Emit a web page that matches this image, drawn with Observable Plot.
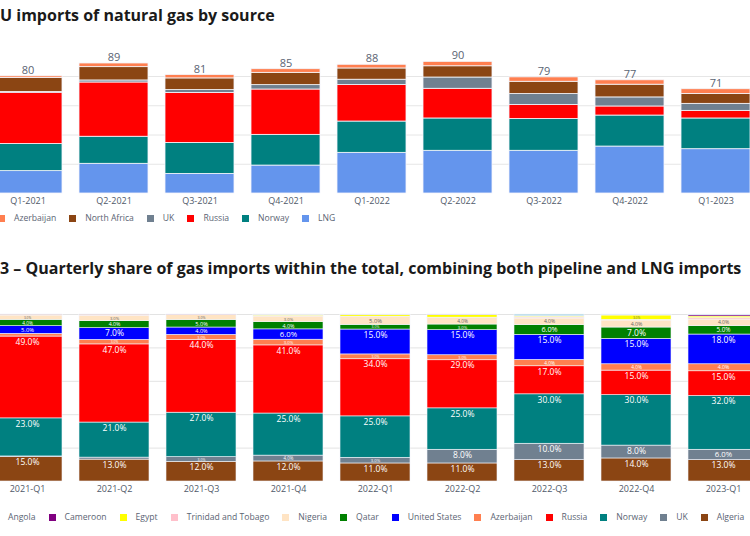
<!DOCTYPE html>
<html><head><meta charset="utf-8">
<script src="https://cdn.jsdelivr.net/npm/d3@7"></script>
<script src="https://cdn.jsdelivr.net/npm/@observablehq/plot@0.6"></script>
<style>
html,body{margin:0;padding:0;background:#fff;}
body{width:750px;height:536px;overflow:hidden;position:relative;font-family:"Open Sans",sans-serif;}
.title{position:absolute;left:0;font-weight:700;font-size:16px;line-height:20px;color:#1a1a1a;white-space:nowrap;z-index:2;}
.chart{position:absolute;left:0;z-index:1;}
.legend{position:absolute;display:flex;align-items:center;white-space:nowrap;font-size:8.6px;line-height:12px;color:#5a6473;z-index:2;}
.legend .item{display:flex;align-items:center;margin-right:13px;}
.legend .sw{width:7px;height:7px;margin-right:9px;}
</style></head><body>
<div class="chart" id="c1" style="top:0px"></div>
<div class="title" style="top:5px">U imports of natural gas by source</div>
<div class="legend" id="l1" style="top:212px;left:-2px"></div>
<div class="title" style="top:258px">3 – Quarterly share of gas imports within the total, combining both pipeline and LNG imports</div>
<div class="chart" id="c2" style="top:290px"></div>
<div class="legend" id="l2" style="top:511px;left:-8px"></div>
<script>
// ---------- Panel 1: EU imports of natural gas by source (bcm) ----------
const quarters1 = ["Q1-2021","Q2-2021","Q3-2021","Q4-2021","Q1-2022","Q2-2022","Q3-2022","Q4-2022","Q1-2023"];
const sources1 = ["LNG","Norway","Russia","UK","North Africa","Azerbaijan"]; // bottom to top
const colors1 = ["#6495ED","#008080","#FF0000","#708090","#8B4513","#FF7F50"];
const lng         = [15.3,20.3,13.4,19.1,27.8,29.2,29.2,32.1,30.3];
const norway      = [18.5,18.5,21.2,21.0,21.4,22.1,21.7,21.2,21.0];
const russia      = [35.1,37.1,34.2,31.0,25.0,20.3, 9.6, 6.2, 5.2];
const uk          = [ 0.5, 1.4, 1.9, 3.0, 3.6, 7.7, 7.5, 6.2, 4.8];
const northAfrica = [ 9.6, 9.1, 8.0, 8.4, 7.7, 7.7, 8.4, 8.7, 6.8];
const azerbaijan  = [ 1.1, 2.5, 2.3, 2.5, 2.5, 3.0, 3.0, 3.0, 3.2];
const gridTicks1 = [20,40,60,80];

// ---------- Panel 2: quarterly share of gas imports (%) ----------
const quarters2 = ["2021-Q1","2021-Q2","2021-Q3","2021-Q4","2022-Q1","2022-Q2","2022-Q3","2022-Q4","2023-Q1"];
const countries2 = ["Algeria","UK","Norway","Russia","Azerbaijan","United States","Qatar","Nigeria","Trinidad and Tobago","Egypt","Cameroon","Angola"]; // bottom to top
const colors2 = ["#8B4513","#708090","#008080","#FF0000","#FF7F50","#0000FF","#008000","#FFE4C4","#FFC0CB","#FFFF00","#800080","#ADD8E6"];
const lightFills = ["Nigeria","Trinidad and Tobago","Egypt","Angola"];
const algeriaShare    = [14.6,13.1,11.8,12.0,10.8,10.8,12.8,13.8,12.8];
const ukShare         = [ 0.4, 1.2, 2.8, 3.5, 3.4, 8.2, 9.8, 7.7, 6.2];
const norwayShare     = [22.8,21.0,26.6,25.2,24.8,24.8,29.6,30.2,32.2];
const russiaShare     = [49.0,46.8,43.6,40.8,34.2,28.8,16.8,14.7,14.8];
const azerbaijanShare = [ 1.6, 2.7, 3.0, 3.4, 2.9, 3.0, 3.8, 3.8, 4.2];
const usShare         = [ 4.6, 7.0, 4.4, 6.2,14.9,15.0,15.0,15.2,17.8];
const qatarShare      = [ 3.8, 4.2, 4.5, 4.3, 2.8, 3.4, 5.8, 6.8, 5.0];
const nigeriaShare    = [ 2.6, 3.3, 2.9, 3.4, 4.6, 3.8, 4.0, 4.2, 4.0];
const trinidadShare   = [ 0.3, 0.4, 0.2, 0.3, 0.3, 0.3, 0.6, 0.4, 0.8];
const egyptShare      = [ 0.2, 0.2, 0.1, 0.7, 1.1, 1.6, 0.6, 2.6, 1.0];
const cameroonShare   = [ 0.1, 0.1, 0.1, 0.1, 0.1, 0.2, 0.1, 0.3, 0.8];
const angolaShare     = [ 0.0, 0.0, 0.0, 0.1, 0.1, 0.1, 1.1, 0.3, 0.4];
const gridTicks2 = [20,40,60,80,100];

// ---------- build tables ----------
const series1 = [lng, norway, russia, uk, northAfrica, azerbaijan];
const long1 = [];
quarters1.forEach((q, i) => sources1.forEach((s, j) => long1.push({quarter: q, source: s, value: series1[j][i]})));
const totals1 = quarters1.map((q, i) => ({quarter: q, total: d3.sum(series1, s => s[i])}));

const series2 = [algeriaShare, ukShare, norwayShare, russiaShare, azerbaijanShare, usShare, qatarShare,
                 nigeriaShare, trinidadShare, egyptShare, cameroonShare, angolaShare];
const rows2 = [];
quarters2.forEach((q, i) => {
  let base = 0;
  countries2.forEach((c, j) => {
    const v = series2[j][i];
    rows2.push({quarter: q, country: c, value: v, y0: base, y1: base + v});
    base += v;
  });
});

// ---------- chart 1 ----------
const H1 = 210, base1 = 193, top1 = 76;
const chart1 = Plot.plot({
  width: 750, height: H1,
  marginTop: 0, marginRight: 0, marginLeft: 0, marginBottom: H1 - base1,
  style: {fontFamily: "'Open Sans', sans-serif", fontSize: "9px", color: "#4f5a69", background: "white"},
  x: {domain: quarters1, range: [-27, 770], padding: 0.2, tickSize: 0, tickPadding: 4, label: null},
  y: {domain: [0, 80], range: [base1, top1], axis: null},
  color: {domain: sources1, range: colors1},
  marks: [
    Plot.ruleY(gridTicks1, {stroke: "#e6e6e6", strokeWidth: 1}),
    Plot.barY(long1, {x: "quarter", y: "value", fill: "source", stroke: "#f4f6fc", strokeWidth: 0.8}),
    Plot.text(totals1, {x: "quarter", y: "total", text: d => String(Math.round(d.total)), dy: -6, fontSize: 11, fill: "#5a6473"})
  ]
});
document.getElementById("c1").appendChild(chart1);

// ---------- chart 2 ----------
const H2 = 210, base2 = 191, top2 = 24;
const pxPerUnit2 = (base2 - top2) / 100;
const labelRows = rows2.map(d => {
  const h = d.value * pxPerUnit2;
  const fs = Math.min(8.5, h * 0.75);
  const off = Math.min(5.5, h / 2) / pxPerUnit2;
  return {...d, fs, ly: d.y1 - off, label: Math.round(d.value).toFixed(1) + "%"};
}).filter(d => d.fs >= 2.5);

const chart2 = Plot.plot({
  width: 750, height: H2,
  marginTop: 0, marginRight: 0, marginLeft: 0, marginBottom: H2 - base2,
  style: {fontFamily: "'Open Sans', sans-serif", fontSize: "9px", color: "#4f5a69", background: "white"},
  x: {domain: quarters2, range: [-26.4, 776.8], padding: 0.2, tickSize: 0, tickPadding: 4, label: null},
  y: {domain: [0, 100], range: [base2, top2], axis: null},
  color: {domain: countries2, range: colors2},
  marks: [
    Plot.ruleY(gridTicks2, {stroke: "#e3e3e3", strokeWidth: 1}),
    Plot.barY(rows2, {x: "quarter", y1: "y0", y2: "y1", fill: "country", stroke: "#f4f6fc", strokeWidth: 0.6}),
    Plot.text(labelRows.filter(d => !lightFills.includes(d.country)), {x: "quarter", y: "ly", text: "label", fontSize: "fs", fill: "white"}),
    Plot.text(labelRows.filter(d => lightFills.includes(d.country)), {x: "quarter", y: "ly", text: "label", fontSize: "fs", fill: "#666"})
  ]
});
document.getElementById("c2").appendChild(chart2);

// ---------- legends ----------
function legend(el, names, colors) {
  names.forEach((n, i) => {
    const it = document.createElement("div"); it.className = "item";
    const sw = document.createElement("span"); sw.className = "sw"; sw.style.background = colors[i];
    const tx = document.createElement("span"); tx.textContent = n;
    it.appendChild(sw); it.appendChild(tx); el.appendChild(it);
  });
}
legend(document.getElementById("l1"), sources1.slice().reverse(), colors1.slice().reverse());
legend(document.getElementById("l2"), countries2.slice().reverse(), colors2.slice().reverse());
</script>
</body></html>
